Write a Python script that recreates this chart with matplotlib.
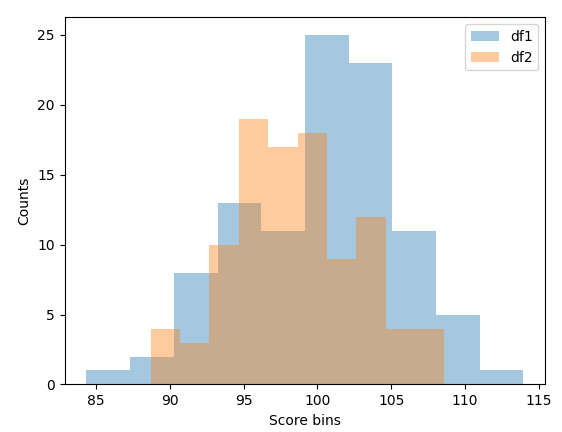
import numpy as np
import matplotlib as mpl
mpl.use('Agg')
import matplotlib.pyplot as plt

# histogram bin edges and counts
df1_edges = [84.35, 87.31, 90.27, 93.23, 96.19, 99.15, 102.11, 105.07, 108.03, 110.99, 113.95]
df1_counts = [1, 2, 8, 13, 11, 25, 23, 11, 5, 1]

df2_edges = [88.7, 90.69, 92.68, 94.67, 96.66, 98.65, 100.64, 102.63, 104.62, 106.61, 108.6]
df2_counts = [4, 3, 10, 19, 17, 18, 9, 12, 4, 4]

fig, ax = plt.subplots(figsize=(5.62, 4.32), dpi=100)

for edges, counts, lab in [(df1_edges, df1_counts, 'df1'),
                           (df2_edges, df2_counts, 'df2')]:
    e = np.array(edges)
    centers = (e[:-1] + e[1:]) / 2
    ax.hist(centers, bins=e, weights=counts, alpha=0.4, label=lab)

ax.set_xlabel('Score bins')
ax.set_ylabel('Counts')
ax.legend()

plt.subplots_adjust(left=0.115, right=0.97, bottom=0.11, top=0.96)
plt.savefig('out.png', dpi=100)
